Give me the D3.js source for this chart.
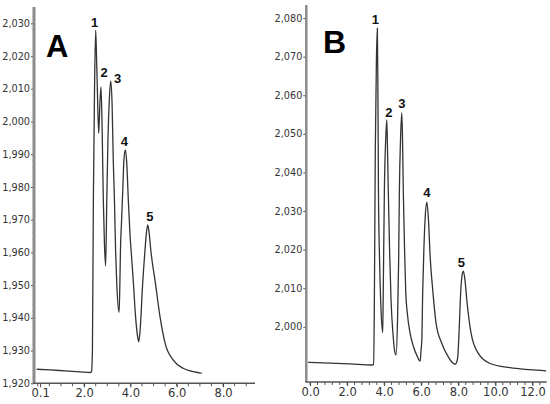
<!DOCTYPE html>
<html><head><meta charset="utf-8">
<script src="https://cdn.jsdelivr.net/npm/d3@7"></script>
<style>html,body{margin:0;padding:0;background:#fff;}svg{display:block;}</style>
</head><body>
<script>
// ---------- DATA ----------
// Panel A chromatogram (time, signal)
const timeA = [-0.05,0.53,1.18,1.83,2.26,2.32,2.36,2.40,2.45,2.50,2.54,2.57,2.63,2.68,2.73,2.78,2.83,2.88,2.93,2.98,3.03,3.10,3.15,3.21,3.26,3.31,3.36,3.41,3.51,3.54,3.57,3.62,3.67,3.72,3.78,3.84,3.91,3.98,4.06,4.13,4.22,4.30,4.36,4.42,4.53,4.63,4.69,4.75,4.81,4.88,5.08,5.28,5.50,5.85,6.28,6.99,7.08];
const signalA = [1924.3,1924.1,1923.8,1923.5,1923.3,1923.6,1930.2,1975.9,2009.6,2027.9,2018.8,2010.6,1996.4,2005.0,2010.6,1997.4,1976.0,1962.3,1955.9,1976.0,1994.3,2008.1,2012.4,2005.0,1988.2,1976.0,1960.7,1950.6,1941.7,1948.5,1960.7,1969.9,1979.1,1988.2,1991.3,1987.6,1976.0,1965.8,1957.7,1950.6,1940.6,1934.8,1932.7,1936.3,1950.6,1960.7,1965.9,1968.4,1965.9,1960.7,1950.6,1940.3,1932.2,1927.1,1924.6,1923.2,1923.1];
const peakTimeA = [2.50,2.73,3.15,3.78,4.75];
const peakSignalA = [2027.9,2010.6,2012.4,1991.3,1968.4];
const yTicksA = [1920,1930,1940,1950,1960,1970,1980,1990,2000,2010,2020,2030];
const xTicksA = [0.1,2,4,6,8];
const xTickLabelsA = ["0.1","2.0","4.0","6.0","8.0"];

// Panel B chromatogram
const timeB = [-0.11,1.08,2.16,3.35,3.43,3.47,3.52,3.58,3.63,3.66,3.69,3.75,3.83,3.92,3.95,4.01,4.08,4.14,4.18,4.22,4.29,4.37,4.48,4.56,4.64,4.72,4.78,4.82,4.88,4.95,4.99,5.03,5.10,5.16,5.26,5.40,5.59,5.78,5.94,5.99,6.03,6.08,6.14,6.22,6.30,6.39,6.48,6.62,6.80,7.11,7.46,7.66,7.83,7.91,7.97,8.06,8.12,8.19,8.27,8.36,8.46,8.69,9.08,9.71,10.79,11.87,12.74];
const signalB = [1990.8,1990.6,1990.4,1990.1,1990.2,2006.9,2045.8,2069.2,2077.4,2061.4,2035.4,2017.3,2004.3,1998.5,2009.5,2035.4,2048.4,2053.6,2045.8,2035.4,2019.9,2006.9,1997.8,1993.9,1992.7,2001.7,2017.3,2035.4,2048.4,2055.5,2048.4,2035.4,2019.9,2009.5,2003.0,1998.3,1994.7,1992.4,1991.1,1994.0,1996.5,2009.5,2019.9,2029.0,2032.3,2027.7,2018.2,2009.5,2000.9,1995.7,1992.2,1990.8,1990.3,1990.8,1992.2,2000.9,2008.2,2012.9,2014.4,2012.1,2006.9,1998.3,1993.1,1990.5,1989.4,1988.9,1988.6];
const peakTimeB = [3.63,4.14,4.95,6.30,8.27];
const peakSignalB = [2077.4,2053.6,2055.5,2032.3,2014.4];
const yTicksB = [2000,2010,2020,2030,2040,2050,2060,2070,2080];
const xTicksB = [0,2,4,6,8,10,12];
const xTickLabelsB = ["0.0","2.0","4.0","6.0","8.0","10.0","12.0"];

const peakNames = ["1","2","3","4","5"];
const panelNames = ["A","B"];

// ---------- LAYOUT ----------
const W = 550, H = 404;
const svg = d3.select("body").append("svg").attr("width", W).attr("height", H);
svg.append("rect").attr("width", W).attr("height", H).attr("fill", "#fff");

const panels = [
  { name: panelNames[0], t: timeA, s: signalA, pt: peakTimeA, ps: peakSignalA,
    xDom: [-0.12, 9.38], xRange: [35, 255], yDom: [1920, 2035], yRange: [383.3, 7],
    yTicks: yTicksA, xTicks: xTicksA, xLabels: xTickLabelsA, xMinor: 0.5, yMinor: 2,
    axisW: 3, letterPos: [46, 57], letterSize: 31,
    lblDx: [-1, 3, 7, -1, 2], lblDy: [-3, -10, 2, -4, -4] },
  { name: panelNames[1], t: timeB, s: signalB, pt: peakTimeB, ps: peakSignalB,
    xDom: [-0.15, 12.77], xRange: [307.3, 546.7], yDom: [1985.7, 2083.4], yRange: [382, 5],
    yTicks: yTicksB, xTicks: xTicksB, xLabels: xTickLabelsB, xMinor: 0.4, yMinor: 2.5,
    axisW: 2.5, letterPos: [323, 53], letterSize: 32,
    lblDx: [-2, 2, 0, 0, -2], lblDy: [-4, -3, -5, -5, -4] }
];

const fmtY = d3.format(",");

panels.forEach(p => {
  const x = d3.scaleLinear().domain(p.xDom).range(p.xRange);
  const y = d3.scaleLinear().domain(p.yDom).range(p.yRange);
  const g = svg.append("g");

  // minor y ticks
  const yMinorVals = d3.range(Math.ceil(p.yDom[0] / p.yMinor) * p.yMinor, p.yDom[1], p.yMinor);
  g.selectAll(".ymin").data(yMinorVals).join("line")
    .attr("x1", p.xRange[0] - 2.5).attr("x2", p.xRange[0])
    .attr("y1", d => y(d)).attr("y2", d => y(d))
    .attr("stroke", "#999").attr("stroke-width", 0.8);

  // y axis
  const yAxis = d3.axisLeft(y).tickValues(p.yTicks).tickFormat(fmtY).tickSize(3).tickPadding(1);
  const ya = g.append("g").attr("transform", `translate(${p.xRange[0] - 1},0)`).call(yAxis);
  ya.select(".domain").remove();
  ya.selectAll(".tick line").attr("stroke", "#555");
  ya.selectAll("text").attr("font-family", "DejaVu Sans, Verdana, sans-serif")
    .attr("font-size", 9.7).attr("fill", "#333");
  g.append("line").attr("x1", p.xRange[0] - 1).attr("x2", p.xRange[0] - 1)
    .attr("y1", p.yRange[1]).attr("y2", p.yRange[0])
    .attr("stroke", "#8c8c8c").attr("stroke-width", p.axisW);

  // minor x ticks
  const xMinorVals = d3.range(0, p.xDom[1], p.xMinor);
  g.selectAll(".xmin").data(xMinorVals).join("line")
    .attr("x1", d => x(d)).attr("x2", d => x(d))
    .attr("y1", p.yRange[0]).attr("y2", p.yRange[0] + 3)
    .attr("stroke", "#555").attr("stroke-width", 1);

  // x axis
  const xAxis = d3.axisBottom(x).tickValues(p.xTicks)
    .tickFormat((d, i) => p.xLabels[i]).tickSize(4).tickPadding(2);
  const xa = g.append("g").attr("transform", `translate(0,${p.yRange[0]})`).call(xAxis);
  xa.select(".domain").remove();
  xa.selectAll(".tick line").attr("stroke", "#444");
  xa.selectAll("text").attr("font-family", "DejaVu Sans, Verdana, sans-serif")
    .attr("font-size", 11.5).attr("fill", "#333");
  g.append("line").attr("x1", p.xRange[0] - 2).attr("x2", p.xRange[1])
    .attr("y1", p.yRange[0]).attr("y2", p.yRange[0])
    .attr("stroke", "#555").attr("stroke-width", 1.5);

  // trace
  const pts = p.t.map((d, i) => [d, p.s[i]]);
  const line = d3.line().x(d => x(d[0])).y(d => y(d[1])).curve(d3.curveMonotoneX);
  g.append("path").datum(pts).attr("d", line)
    .attr("fill", "none").attr("stroke", "#333").attr("stroke-width", 1.3)
    .attr("stroke-linejoin", "round");

  // peak labels
  g.selectAll(".pk").data(peakNames).join("text")
    .attr("x", (d, i) => x(p.pt[i]) + p.lblDx[i])
    .attr("y", (d, i) => y(p.ps[i]) + p.lblDy[i])
    .attr("text-anchor", "middle")
    .attr("font-family", "Liberation Sans, Arial, sans-serif")
    .attr("font-weight", "bold").attr("font-size", 13).attr("fill", "#111")
    .text(d => d);

  // panel letter
  g.append("text").attr("x", p.letterPos[0]).attr("y", p.letterPos[1])
    .attr("font-family", "Liberation Sans, Arial, sans-serif")
    .attr("font-weight", "bold").attr("font-size", p.letterSize).attr("fill", "#000")
    .text(p.name);
});
</script>
</body></html>
